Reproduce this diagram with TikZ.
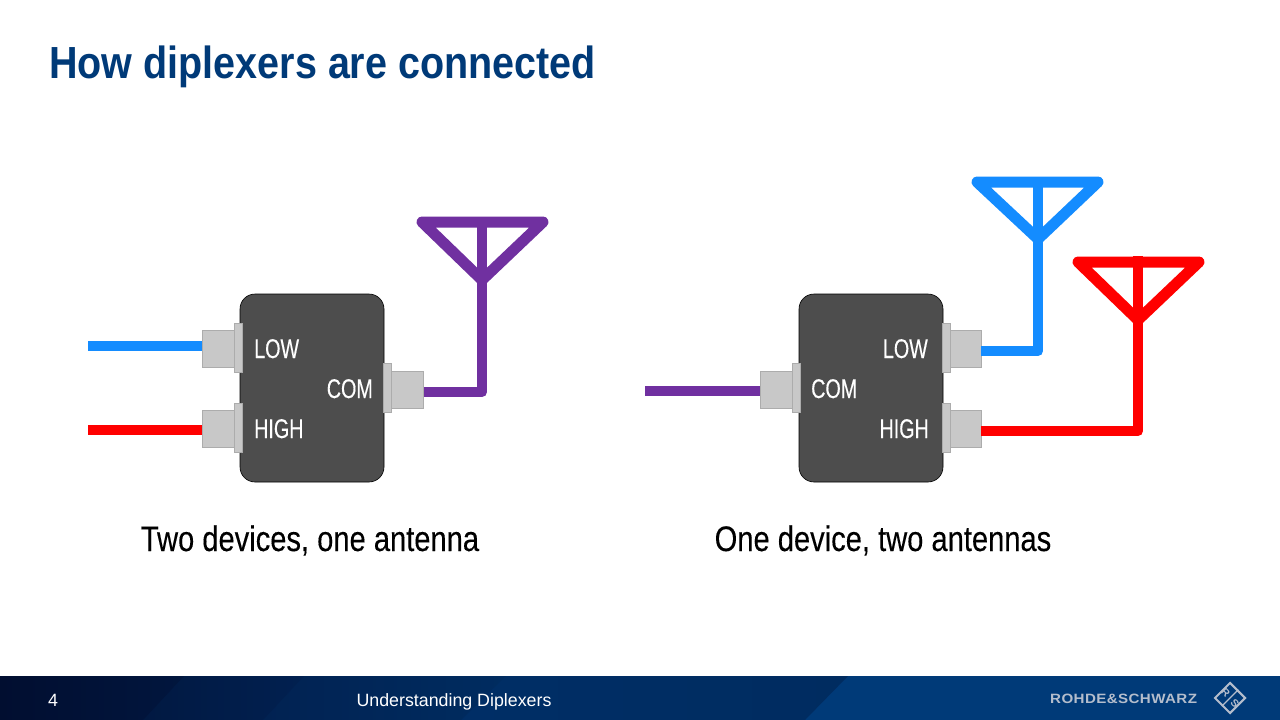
\documentclass[tikz,border=0pt]{standalone}
\usepackage{fontspec}
\usetikzlibrary{shapes.geometric}
\setmainfont{Liberation Sans}
\newfontfamily\titlefont{Liberation Sans}[FakeStretch=0.878]
\newfontfamily\narrowfont{Liberation Sans}[FakeStretch=0.73,FakeBold=0.3]
\newfontfamily\capfont{Liberation Sans}[FakeStretch=0.82,FakeBold=0.2]
\newfontfamily\logofont{Liberation Sans}[FakeStretch=1.12,LetterSpace=3]
\definecolor{titleblue}{HTML}{003A78}
\definecolor{wblue}{HTML}{148CFF}
\definecolor{wred}{HTML}{FF0000}
\definecolor{wpurple}{HTML}{7030A0}
\definecolor{boxgray}{HTML}{4D4D4D}
\definecolor{conn}{HTML}{C8C8C8}
\definecolor{connline}{HTML}{ACACAC}
\definecolor{logogray}{HTML}{B4BDCC}
\definecolor{fa}{RGB}{1,14,48}
\definecolor{fb}{RGB}{1,22,62}
\definecolor{fc}{RGB}{1,25,66}
\definecolor{fd}{RGB}{1,32,80}
\definecolor{fe}{RGB}{1,34,82}
\definecolor{ff}{RGB}{0,44,96}
\definecolor{fg}{RGB}{0,46,102}
\definecolor{fh}{RGB}{0,44,96}
\definecolor{fi}{RGB}{0,58,120}
\tikzset{
  x=1pt,y=-1pt,
  dipbox/.style={draw=black,line width=0.6pt,fill=boxgray,rounded corners=15pt,minimum width=144pt,minimum height=188pt,inner sep=0pt},
  connbody/.style={draw=connline,line width=0.7pt,fill=conn,minimum width=33pt,minimum height=37pt,inner sep=0pt},
  flange/.style={draw=connline,line width=0.7pt,fill=conn,minimum width=7.5pt,minimum height=49.5pt,inner sep=0pt},
  wire/.style={line width=10pt,line join=round},
  ant/.style={line width=11pt,line join=round,line cap=round},
  portlabel/.style={text=white,inner sep=0pt,font=\narrowfont\fontsize{27}{27}\selectfont},
  caption/.style={text=black,inner sep=0pt,font=\capfont\fontsize{35.5}{36}\selectfont},
  foot/.style={text=white,inner sep=0pt,font=\fontsize{17.8}{18}\selectfont},
  logoletter/.style={text=logogray,inner sep=0pt,rotate=-45,font=\bfseries\fontsize{10.5}{11}\selectfont}
}
\begin{document}
\begin{tikzpicture}
\useasboundingbox (0,0) rectangle (1280,720);
\fill[white] (0,0) rectangle (1280,720);
% footer bands, each painted over the one to its right
\fill[fi] (0,676) rectangle (1280,720);
\begin{scope}
\clip (0,676) -- (848,676) -- (805,720) -- (0,720) -- cycle;
\shade[left color=fg,right color=fh] (461,676) rectangle (848,720);
\end{scope}
\begin{scope}
\clip (0,676) -- (506,676) -- (461,720) -- (0,720) -- cycle;
\shade[left color=fe,right color=ff] (263,676) rectangle (506,720);
\end{scope}
\begin{scope}
\clip (0,676) -- (304,676) -- (263,720) -- (0,720) -- cycle;
\shade[left color=fc,right color=fd] (143,676) rectangle (304,720);
\end{scope}
\begin{scope}
\clip (0,676) -- (184,676) -- (143,720) -- (0,720) -- cycle;
\shade[left color=fa,right color=fb] (0,676) rectangle (184,720);
\end{scope}
% title
\node[anchor=base west,inner sep=0pt,text=titleblue,font=\titlefont\bfseries\fontsize{45}{46}\selectfont] (title) at (49,78) {How diplexers are connected};
% left diagram wires
\coordinate (lowEndL) at (88,346);
\coordinate (highEndL) at (88,429.5);
\coordinate (bendL) at (482,392);
\coordinate (antTipL) at (482,280);
\coordinate (antAL) at (422,222);
\coordinate (antBL) at (543,222);
\coordinate (antTopL) at (482,222);
\node[connbody] (lowBodyL) at (219,348.5) {};
\node[connbody] (highBodyL) at (219,428.5) {};
\node[connbody] (comBodyL) at (407,389.5) {};
\draw[wire,wblue] (lowEndL) -- (lowEndL -| lowBodyL.west);
\draw[wire,wred] (highEndL) -- (highEndL -| highBodyL.west);
\draw[wire,wpurple] (comBodyL.east |- bendL) -- (bendL) -- (antTopL);
\draw[ant,wpurple] (antAL) -- (antBL) -- (antTipL) -- cycle;
\node[dipbox] (boxL) at (312,388) {};
\node[flange] (lowFlangeL) at (238.5,348) {};
\node[flange] (highFlangeL) at (238.5,428) {};
\node[flange] (comFlangeL) at (387.5,388) {};
\node[portlabel,anchor=base west] (lowTextL) at (254,358) {LOW};
\node[portlabel,anchor=base west] (highTextL) at (254,438) {HIGH};
\node[portlabel,anchor=base east] (comTextL) at (373,398) {COM};
\node[caption,anchor=base] (capL) at (310,551) {Two devices, one antenna};
% right diagram wires
\coordinate (comEndR) at (645,391);
\coordinate (bendLow) at (1038,351);
\coordinate (antTipLow) at (1038,239);
\coordinate (antALow) at (977,182);
\coordinate (antBLow) at (1098,182);
\coordinate (antTopLow) at (1038,182);
\coordinate (bendHigh) at (1138,431);
\coordinate (antTipHigh) at (1138,320);
\coordinate (antAHigh) at (1078,262);
\coordinate (antBHigh) at (1199,262);
\coordinate (antTopHigh) at (1138,256);
\node[connbody] (comBodyR) at (776.5,389.5) {};
\node[connbody] (lowBodyR) at (964.5,348.5) {};
\node[connbody] (highBodyR) at (964.5,428.5) {};
\draw[wire,wpurple] (comEndR) -- (comEndR -| comBodyR.west);
\draw[wire,wblue] (lowBodyR.east |- bendLow) -- (bendLow) -- (antTopLow);
\draw[wire,wred] (highBodyR.east |- bendHigh) -- (bendHigh) -- (antTopHigh);
\draw[ant,wblue] (antALow) -- (antBLow) -- (antTipLow) -- cycle;
\draw[ant,wred] (antAHigh) -- (antBHigh) -- (antTipHigh) -- cycle;
\node[dipbox] (boxR) at (871,388) {};
\node[flange] (comFlangeR) at (796.5,388) {};
\node[flange] (lowFlangeR) at (946.5,348) {};
\node[flange] (highFlangeR) at (946.5,428) {};
\node[portlabel,anchor=base east] (lowTextR) at (928,358) {LOW};
\node[portlabel,anchor=base east] (highTextR) at (929,438) {HIGH};
\node[portlabel,anchor=base west] (comTextR) at (811,398) {COM};
\node[caption,anchor=base] (capR) at (883,551) {One device, two antennas};
% footer text
\node[foot,anchor=base] (pageno) at (53,706) {4};
\node[foot,anchor=base] (foottext) at (454,706) {Understanding Diplexers};
\node[anchor=base west,inner sep=0pt,text=logogray,font=\logofont\bfseries\fontsize{13.5}{14}\selectfont] (logotext) at (1050,703) {ROHDE\&SCHWARZ};
\node[draw=logogray,line width=2pt,diamond,aspect=1,minimum size=31pt,inner sep=0pt] (logo) at (1230,698) {};
\node[logoletter] (logoR) at (1225.5,693) {R};
\node[logoletter] (logoS) at (1235,703) {S};
\draw[logogray,line width=1.2pt] (logo.south west) -- (logo.north east);
\end{tikzpicture}
\end{document}
